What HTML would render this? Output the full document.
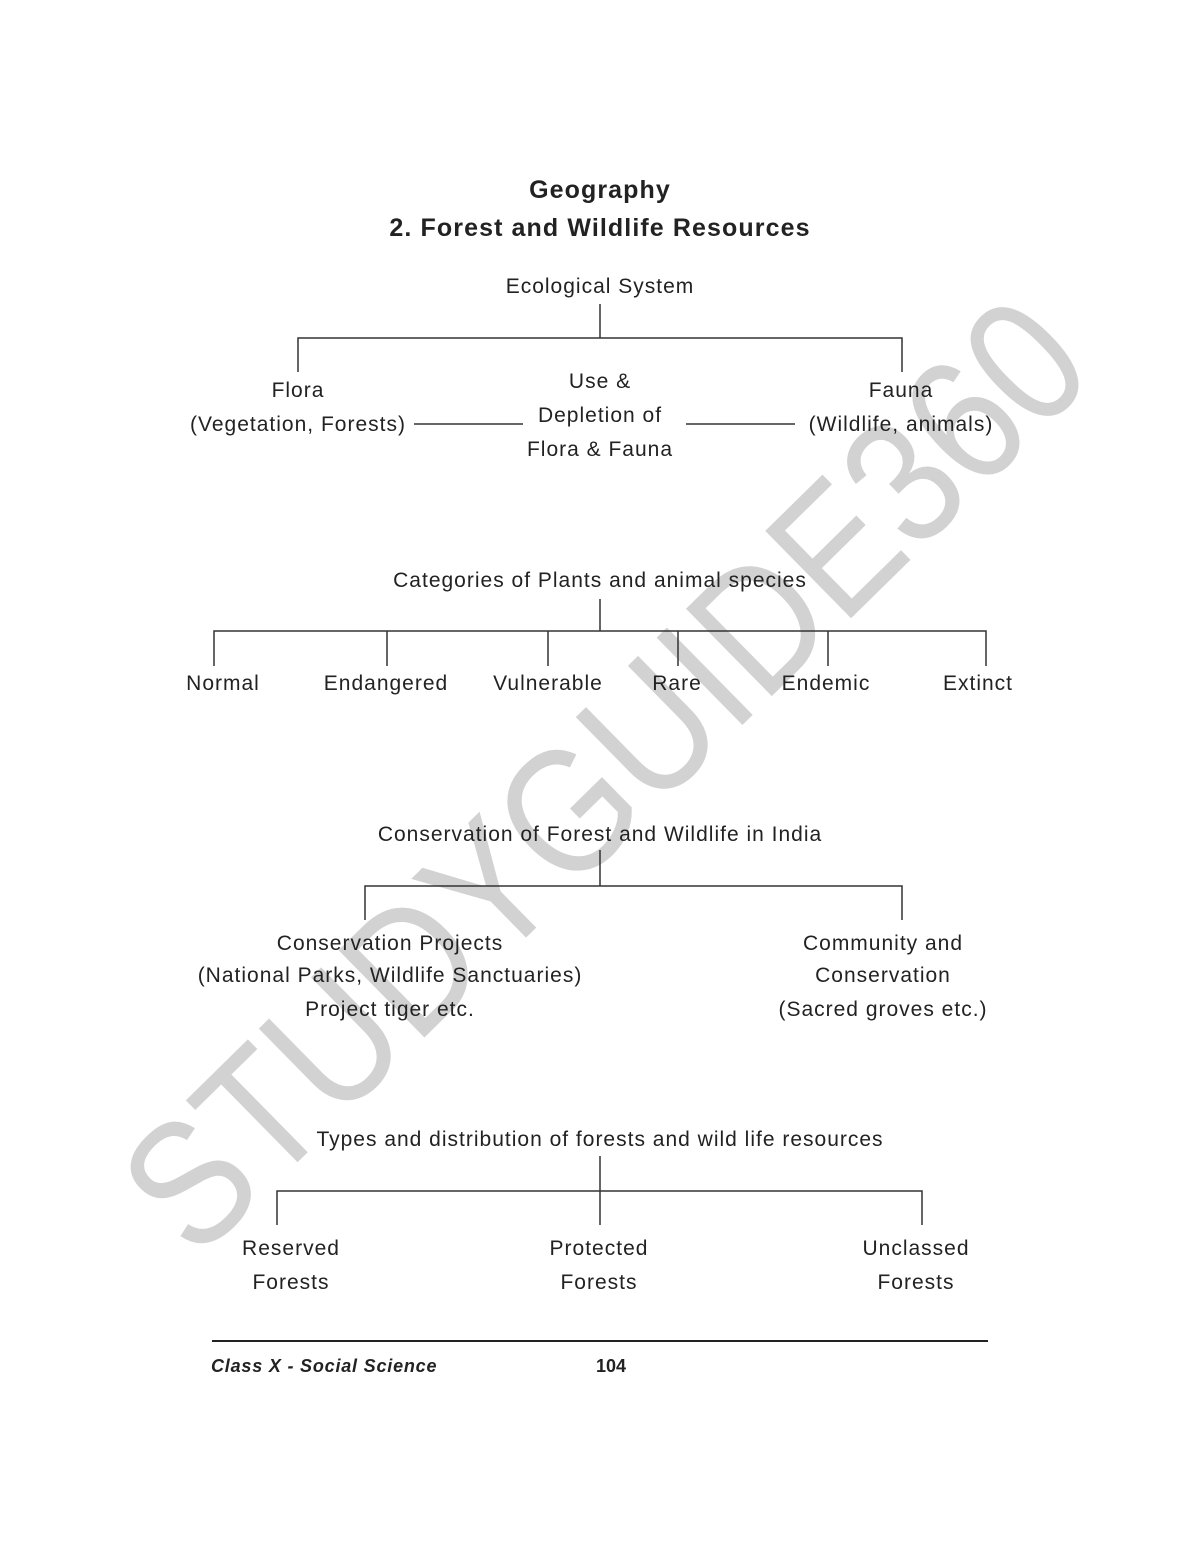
<!DOCTYPE html>
<html><head><meta charset="utf-8"><style>
html,body{margin:0;padding:0;background:#fff;}
svg{display:block;}
text{font-family:"Liberation Sans",Arial,sans-serif;fill:#222;}
</style></head><body>
<svg width="1200" height="1553" viewBox="0 0 1200 1553" xmlns="http://www.w3.org/2000/svg">
<!-- watermark -->
<text x="0" y="0" transform="translate(196,1262) rotate(-44.5)" font-size="178" textLength="1265" lengthAdjust="spacingAndGlyphs" style="fill:#d2d2d2">STUDYGUIDE360</text>

<g stroke="#333" stroke-width="1.5" fill="none">
<path d="M600 304V338M298 372V338H902V372"/>
<path d="M414 424H523M686 424H795"/>
<path d="M600 599V631M214 666V631H986V666M387 631V666M548 631V666M678 631V666M828 631V666"/>
<path d="M600 850V886M365 920V886H902V920"/>
<path d="M600 1156V1225M277 1225V1191H922V1225"/>
</g>
<line x1="212" y1="1341" x2="988" y2="1341" stroke="#222" stroke-width="2"/>

<g font-size="21" text-anchor="middle" letter-spacing="1">
<text x="600" y="198" font-size="25" font-weight="bold" letter-spacing="1.1">Geography</text>
<text x="600" y="236" font-size="25" font-weight="bold" letter-spacing="1.1">2. Forest and Wildlife Resources</text>
<text x="600" y="293">Ecological System</text>
<text x="298" y="397">Flora</text>
<text x="298" y="431">(Vegetation, Forests)</text>
<text x="600" y="388">Use &amp;</text>
<text x="600" y="422">Depletion of</text>
<text x="600" y="456">Flora &amp; Fauna</text>
<text x="901" y="397">Fauna</text>
<text x="901" y="431">(Wildlife, animals)</text>

<text x="600" y="587">Categories of Plants and animal species</text>
<text x="223" y="690">Normal</text>
<text x="386" y="690">Endangered</text>
<text x="548" y="690">Vulnerable</text>
<text x="677" y="690">Rare</text>
<text x="826" y="690">Endemic</text>
<text x="978" y="690">Extinct</text>

<text x="600" y="841">Conservation of Forest and Wildlife in India</text>
<text x="390" y="950">Conservation Projects</text>
<text x="390" y="982">(National Parks, Wildlife Sanctuaries)</text>
<text x="390" y="1016">Project tiger etc.</text>
<text x="883" y="950">Community and</text>
<text x="883" y="982">Conservation</text>
<text x="883" y="1016">(Sacred groves etc.)</text>

<text x="600" y="1146">Types and distribution of forests and wild life resources</text>
<text x="291" y="1255">Reserved</text>
<text x="291" y="1289">Forests</text>
<text x="599" y="1255">Protected</text>
<text x="599" y="1289">Forests</text>
<text x="916" y="1255">Unclassed</text>
<text x="916" y="1289">Forests</text>
</g>
<text x="211" y="1372" font-size="18" font-weight="bold" font-style="italic" letter-spacing="0.8">Class X - Social Science</text>
<text x="611" y="1372" font-size="18" font-weight="bold" text-anchor="middle">104</text>
</svg>
</body></html>
